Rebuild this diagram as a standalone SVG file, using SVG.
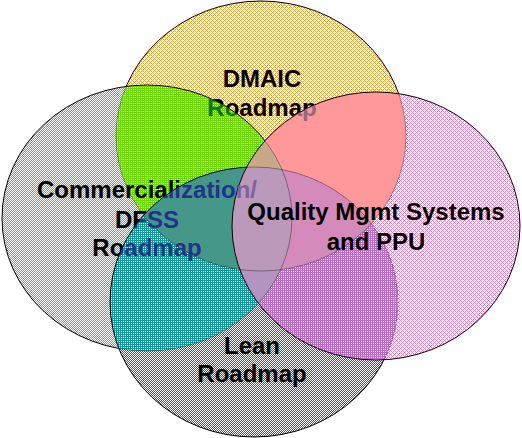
<svg xmlns="http://www.w3.org/2000/svg" width="522" height="438" viewBox="0 0 522 438">
<defs>
<style>
text { font-family: "Liberation Sans", Arial, sans-serif; font-weight: bold; font-size: 24px; text-anchor: middle; }
.ol { fill: none; stroke: #000; stroke-width: 1; }
.in { fill: none; stroke: #000; stroke-opacity: 0.35; stroke-width: 1; }
</style>
<pattern id="pT" width="4" height="4" patternUnits="userSpaceOnUse"><rect width="4" height="4" fill="#fff"/><g fill="#FF9900"><rect width="1" height="1"/><rect x="2" y="2" width="1" height="1"/><rect x="1" y="1" width="1" height="1"/><rect x="3" y="1" width="1" height="1"/><rect x="1" y="3" width="1" height="1"/><rect x="3" y="3" width="1" height="1"/></g></pattern>
<pattern id="pL" width="2" height="2" patternUnits="userSpaceOnUse"><rect width="2" height="2" fill="#fff"/><rect x="1" width="1" height="1" fill="#1EE01E"/><rect y="1" width="1" height="1" fill="#1EE01E"/></pattern>
<pattern id="pB" width="2" height="2" patternUnits="userSpaceOnUse"><rect width="2" height="2" fill="#fff"/><rect x="1" width="1" height="1" fill="#1C4FEF"/><rect y="1" width="1" height="1" fill="#1C4FEF"/></pattern>
<pattern id="pR" width="4" height="4" patternUnits="userSpaceOnUse"><rect width="4" height="4" fill="#fff"/><g fill="#FF6FC8"><rect width="1" height="1"/><rect x="2" y="2" width="1" height="1"/><rect x="1" y="1" width="1" height="1"/><rect x="3" y="1" width="1" height="1"/><rect x="1" y="3" width="1" height="1"/><rect x="3" y="3" width="1" height="1"/></g></pattern>
<pattern id="pTL" width="2" height="2" patternUnits="userSpaceOnUse"><rect width="2" height="2" fill="#66DD00"/><rect x="1" y="1" width="1" height="1" fill="#fff"/></pattern>
<pattern id="pLB" width="2" height="2" patternUnits="userSpaceOnUse"><rect width="2" height="2" fill="#109A9E"/><rect x="1" y="1" width="1" height="1" fill="#fff"/></pattern>
<pattern id="pBR" width="2" height="2" patternUnits="userSpaceOnUse"><rect width="2" height="2" fill="#BF66CC"/><rect x="1" y="1" width="1" height="1" fill="#fff"/></pattern>
<pattern id="txT" x="0" y="0" width="522" height="438" patternUnits="userSpaceOnUse"><rect width="522" height="438" fill="#000"/><ellipse cx="147" cy="218" rx="145" ry="133" fill="#167016"/><ellipse cx="376" cy="226" rx="144" ry="134" fill="#8E6A80"/></pattern>
<pattern id="txL" x="0" y="0" width="522" height="438" patternUnits="userSpaceOnUse"><rect width="522" height="438" fill="#000"/><ellipse cx="254" cy="302" rx="144" ry="135" fill="#22338A"/><ellipse cx="376" cy="226" rx="144" ry="134" fill="#7F60A2"/></pattern>
<clipPath id="cT"><ellipse cx="261" cy="136" rx="145" ry="135"/></clipPath>
<clipPath id="cL"><ellipse cx="147" cy="218" rx="145" ry="133"/></clipPath>
<clipPath id="cB"><ellipse cx="254" cy="302" rx="144" ry="135"/></clipPath>
<clipPath id="cR"><ellipse cx="376" cy="226" rx="144" ry="134"/></clipPath>
<clipPath id="cLBR"><ellipse cx="147" cy="218" rx="145" ry="133"/><ellipse cx="254" cy="302" rx="144" ry="135"/><ellipse cx="376" cy="226" rx="144" ry="134"/></clipPath>
<clipPath id="cBR"><ellipse cx="254" cy="302" rx="144" ry="135"/><ellipse cx="376" cy="226" rx="144" ry="134"/></clipPath>
<mask id="mLBR" maskUnits="userSpaceOnUse" x="0" y="0" width="522" height="438"><rect width="522" height="438" fill="#fff"/><ellipse cx="147" cy="218" rx="145" ry="133" fill="#000"/><ellipse cx="254" cy="302" rx="144" ry="135" fill="#000"/><ellipse cx="376" cy="226" rx="144" ry="134" fill="#000"/></mask>
<mask id="mBR" maskUnits="userSpaceOnUse" x="0" y="0" width="522" height="438"><rect width="522" height="438" fill="#fff"/><ellipse cx="254" cy="302" rx="144" ry="135" fill="#000"/><ellipse cx="376" cy="226" rx="144" ry="134" fill="#000"/></mask>
<mask id="mR" maskUnits="userSpaceOnUse" x="0" y="0" width="522" height="438"><rect width="522" height="438" fill="#fff"/><ellipse cx="376" cy="226" rx="144" ry="134" fill="#000"/></mask>
</defs>
<rect width="522" height="438" fill="#fff"/>
<g id="node-dmaic"><ellipse cx="261" cy="136" rx="145" ry="135" fill="url(#pT)"/></g>
<g id="node-commercialization"><ellipse cx="147" cy="218" rx="145" ry="133" fill="url(#pL)"/></g>
<g id="node-lean"><ellipse cx="254" cy="302" rx="144" ry="135" fill="url(#pB)"/></g>
<g id="node-quality"><ellipse cx="376" cy="226" rx="144" ry="134" fill="url(#pR)"/></g>
<g id="overlaps">
<g clip-path="url(#cT)"><ellipse cx="147" cy="218" rx="145" ry="133" fill="url(#pTL)"/></g>
<g clip-path="url(#cT)"><ellipse cx="376" cy="226" rx="144" ry="134" fill="#FF9999"/></g>
<g clip-path="url(#cL)"><ellipse cx="254" cy="302" rx="144" ry="135" fill="url(#pLB)"/></g>
<g clip-path="url(#cB)"><ellipse cx="376" cy="226" rx="144" ry="134" fill="url(#pBR)"/></g>
<g clip-path="url(#cT)"><g clip-path="url(#cL)"><ellipse cx="254" cy="302" rx="144" ry="135" fill="#45978A"/></g></g>
<g clip-path="url(#cT)"><g clip-path="url(#cL)"><ellipse cx="376" cy="226" rx="144" ry="134" fill="#C9A88A"/></g></g>
<g clip-path="url(#cT)"><g clip-path="url(#cB)"><ellipse cx="376" cy="226" rx="144" ry="134" fill="#D48BBC"/></g></g>
<g clip-path="url(#cL)"><g clip-path="url(#cB)"><ellipse cx="376" cy="226" rx="144" ry="134" fill="#B393C0"/></g></g>
<g clip-path="url(#cT)"><g clip-path="url(#cL)"><g clip-path="url(#cB)"><ellipse cx="376" cy="226" rx="144" ry="134" fill="#BA99BA"/></g></g></g>
</g>
<g id="outlines">
<ellipse class="ol" cx="261" cy="136" rx="145" ry="135" mask="url(#mLBR)"/>
<g clip-path="url(#cLBR)"><ellipse class="in" cx="261" cy="136" rx="145" ry="135"/></g>
<ellipse class="ol" cx="147" cy="218" rx="145" ry="133" mask="url(#mBR)"/>
<g clip-path="url(#cBR)"><ellipse class="in" cx="147" cy="218" rx="145" ry="133"/></g>
<ellipse class="ol" cx="254" cy="302" rx="144" ry="135" mask="url(#mR)"/>
<g clip-path="url(#cR)"><ellipse class="in" cx="254" cy="302" rx="144" ry="135"/></g>
<ellipse class="ol" cx="376" cy="226" rx="144" ry="134"/>
</g>
<g id="label-dmaic" fill="url(#txT)"><text x="262" y="87">DMAIC</text><text x="262" y="116">Roadmap</text></g>
<g id="label-commercialization" fill="url(#txL)"><text x="147" y="198">Commercialization/</text><text x="147" y="228">DFSS</text><text x="147" y="256">Roadmap</text></g>
<g id="label-quality" fill="#000"><text x="376" y="220">Quality Mgmt Systems</text><text x="376" y="250">and PPU</text></g>
<g id="label-lean" fill="#000"><text x="252" y="354">Lean</text><text x="252" y="382">Roadmap</text></g>
</svg>
